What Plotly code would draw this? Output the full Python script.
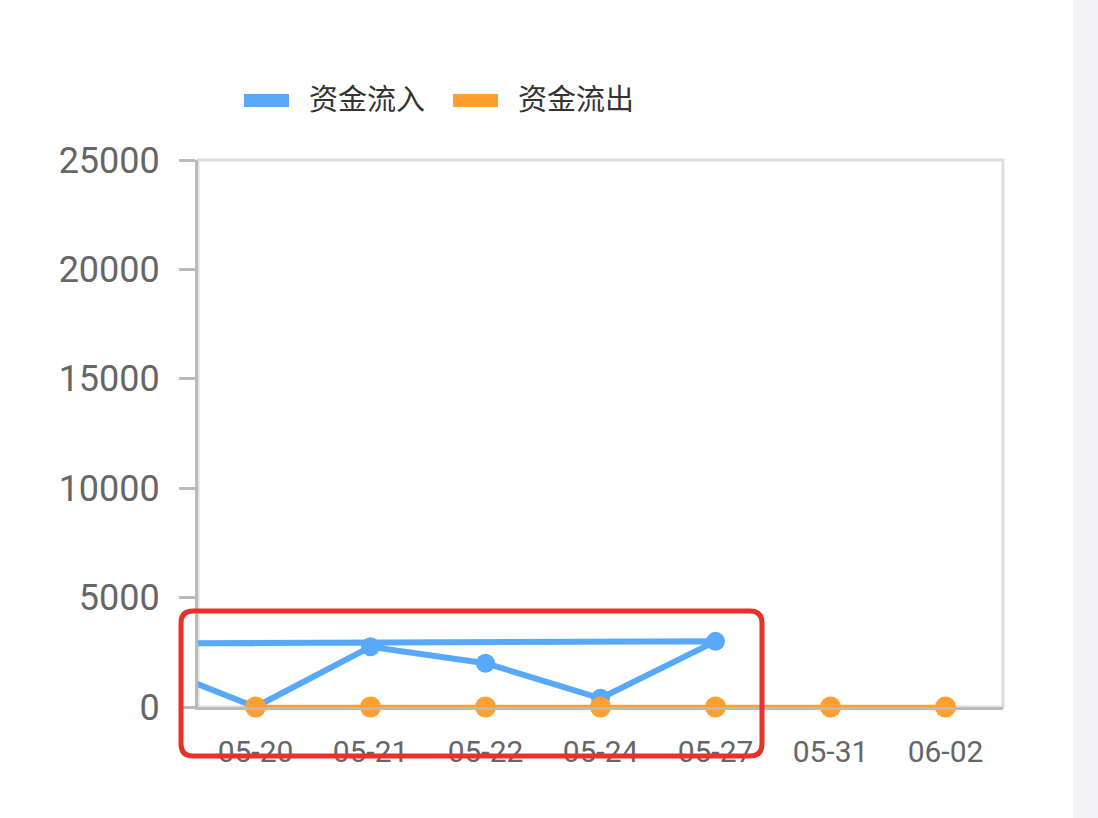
import plotly.graph_objects as go

# categories on the x axis
dates = ["05-20", "05-21", "05-22", "05-24", "05-27", "05-31", "06-02"]

# 资金流入 - the rendered path runs off the left edge and back (as in the screenshot)
inflow_x = [-1.4, 0, 1, 2, 3, 4, -1.4]
inflow_y = [2900, 0, 2750, 2000, 400, 3000, 2900]

# 资金流出
outflow_x = [0, 1, 2, 3, 4, 5, 6]
outflow_y = [0, 0, 0, 0, 0, 0, 0]

y_ticks = [0, 5000, 10000, 15000, 20000, 25000]

BLUE = "#58a9fb"
ORANGE = "#fe9f2f"
FONT = "Roboto, 'Noto Sans CJK SC', sans-serif"

W, H = 1098, 818
L, R, T, B = 198, 1003, 160, 707  # plot area in pixels


def px(x, y):
    # pixel -> paper coords
    return (x - L) / (R - L), (B - y) / (B - T)


fig = go.Figure()
fig.add_trace(go.Scatter(x=inflow_x, y=inflow_y, mode="lines+markers", name="资金流入",
                         line=dict(color=BLUE, width=6), marker=dict(size=19, color=BLUE),
                         showlegend=False))
fig.add_trace(go.Scatter(x=outflow_x, y=outflow_y, mode="lines+markers", name="资金流出",
                         line=dict(color=ORANGE, width=4.5), marker=dict(size=21, color=ORANGE),
                         showlegend=False, cliponaxis=False))

shapes = []
annotations = []

# plot frame (light) - top and right
x0, y0 = px(L, B)
x1, y1 = px(R, T)
shapes.append(dict(type="rect", xref="paper", yref="paper", x0=x0, y0=y0, x1=x1, y1=y1,
                   line=dict(color="#dddddd", width=3), layer="below"))

# gray strip at the right edge
sx0, sy0 = px(1073, H + 5)
sx1, sy1 = px(W + 5, -5)
shapes.append(dict(type="rect", xref="paper", yref="paper", x0=sx0, y0=sy0, x1=sx1, y1=sy1,
                   fillcolor="#f4f4f8", line=dict(width=0), layer="below"))

# manual legend
for name, color, bx, tx in [("资金流入", BLUE, 244, 307), ("资金流出", ORANGE, 453, 516)]:
    a0, b0 = px(bx, 107)
    a1, b1 = px(bx + 45, 94)
    shapes.append(dict(type="rect", xref="paper", yref="paper", x0=a0, y0=b0, x1=a1, y1=b1,
                       fillcolor=color, line=dict(width=0)))
    ax, ay = px(tx, 100)
    annotations.append(dict(text=name, xref="paper", yref="paper", x=ax, y=ay,
                            xanchor="left", yanchor="middle", showarrow=False,
                            font=dict(size=29, color="#333333", family=FONT)))

# red highlight box with rounded corners
bx0, by0, bx1, by1, r = 181, 611, 762, 756, 12


def P(x, y):
    a, b = px(x, y)
    return f"{a:.5f},{b:.5f}"


path = (f"M {P(bx0 + r, by0)} L {P(bx1 - r, by0)} Q {P(bx1, by0)} {P(bx1, by0 + r)} "
        f"L {P(bx1, by1 - r)} Q {P(bx1, by1)} {P(bx1 - r, by1)} "
        f"L {P(bx0 + r, by1)} Q {P(bx0, by1)} {P(bx0, by1 - r)} "
        f"L {P(bx0, by0 + r)} Q {P(bx0, by0)} {P(bx0 + r, by0)} Z")
shapes.append(dict(type="path", xref="paper", yref="paper", path=path,
                   line=dict(color="#e8312a", width=5)))

fig.update_layout(
    width=W, height=H,
    margin=dict(l=L, r=W - R, t=T, b=H - B, pad=0),
    paper_bgcolor="white", plot_bgcolor="white",
    font=dict(family=FONT),
    shapes=shapes, annotations=annotations,
    showlegend=False,
)
fig.update_xaxes(range=[-0.5, 6.5], tickvals=list(range(len(dates))), ticktext=dates,
                 showgrid=False, zeroline=False, showline=True, linecolor="#bbbbbb", linewidth=3,
                 ticks="", ticklabelstandoff=16,
                 tickfont=dict(size=30, color="#666666", family=FONT))
fig.update_yaxes(range=[0, 25000], tickvals=y_ticks, ticktext=[str(v) for v in y_ticks],
                 showgrid=False, zeroline=False,
                 showline=True, linecolor="#bbbbbb", linewidth=3,
                 ticks="outside", ticklen=16, tickwidth=3, tickcolor="#bbbbbb",
                 ticklabelstandoff=12,
                 tickfont=dict(size=36, color="#666666", family=FONT))

fig.write_html("out.html", config={"displayModeBar": False},
               post_script="document.body.style.margin='0';")
